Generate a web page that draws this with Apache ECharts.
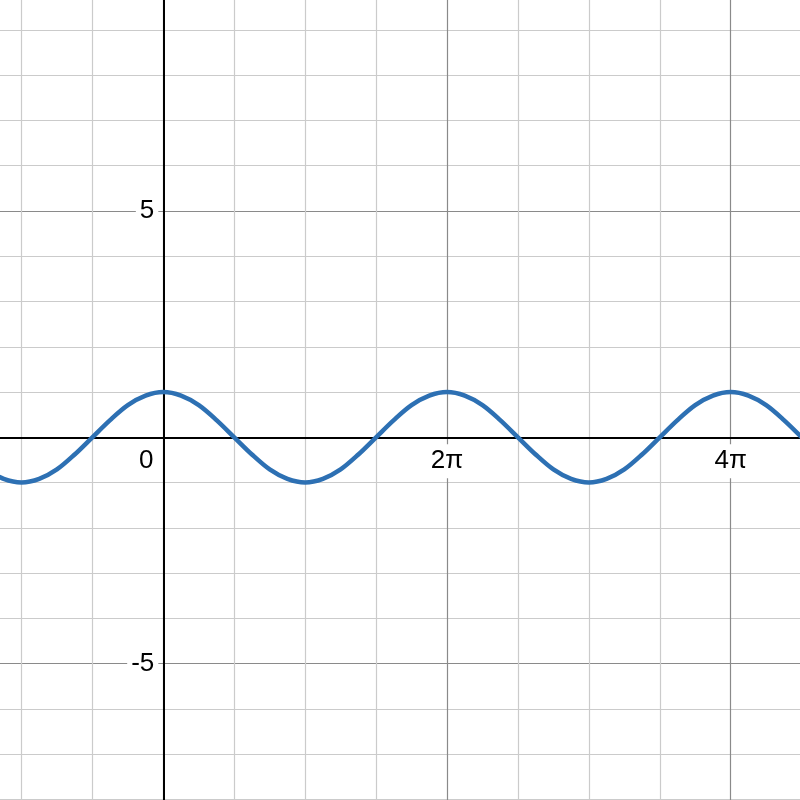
<!DOCTYPE html>
<html>
<head>
<meta charset="utf-8">
<script src="https://cdn.jsdelivr.net/npm/echarts@6.0.0/dist/echarts.min.js"></script>
<style>
html, body { margin: 0; padding: 0; background: #fff; }
#main { width: 800px; height: 800px; }
</style>
</head>
<body>
<div id="main"></div>
<script>
// x is in multiples of pi, read every pi/8 along the curve
var xValues = [-1.25, -1.125, -1, -0.875, -0.75, -0.625, -0.5, -0.375, -0.25, -0.125,
    0, 0.125, 0.25, 0.375, 0.5, 0.625, 0.75, 0.875, 1, 1.125, 1.25, 1.375, 1.5, 1.625, 1.75, 1.875,
    2, 2.125, 2.25, 2.375, 2.5, 2.625, 2.75, 2.875, 3, 3.125, 3.25, 3.375, 3.5, 3.625, 3.75, 3.875,
    4, 4.125, 4.25, 4.375, 4.5];
var yValues = [-0.71, -0.92, -1, -0.92, -0.71, -0.38, 0, 0.38, 0.71, 0.92,
    1, 0.92, 0.71, 0.38, 0, -0.38, -0.71, -0.92, -1, -0.92, -0.71, -0.38, 0, 0.38, 0.71, 0.92,
    1, 0.92, 0.71, 0.38, 0, -0.38, -0.71, -0.92, -1, -0.92, -0.71, -0.38, 0, 0.38, 0.71, 0.92,
    1, 0.92, 0.71, 0.38, 0];
var xTickLabels = { '-2': '-2π', '0': '0', '2': '2π', '4': '4π', '6': '6π' };
var yTickLabels = { '-10': '-10', '-5': '-5', '0': '', '5': '5', '10': '10' };

var myChart = echarts.init(document.getElementById('main'));

// grid box is larger than the canvas so min/max sit on whole ticks
var gridLeft = -120.4, gridTop = -15.3, gridWidth = 1134.8, gridHeight = 905.2;
var zeroX = 163.3, zeroY = 437.3;

var labelFont = {
    fontFamily: 'Liberation Sans, Arial, sans-serif',
    fontSize: 26,
    lineHeight: 26,
    color: '#000'
};

function gridAxis(min, max, step, minorSplit) {
    return {
        type: 'value',
        min: min,
        max: max,
        interval: step,
        z: 0,
        axisLine: { show: false },
        axisTick: { show: false },
        axisLabel: { show: false },
        splitLine: { show: true, lineStyle: { color: '#8a8a8a', width: 1.2 } },
        minorTick: { show: false, splitNumber: minorSplit },
        minorSplitLine: { show: true, lineStyle: { color: '#cbcbcb', width: 1.2 } }
    };
}

var points = xValues.map(function(x, i) {
    return [x, yValues[i]];
});

var option = {
    animation: false,
    backgroundColor: '#fff',
    grid: {
        left: gridLeft,
        top: gridTop,
        width: gridWidth,
        height: gridHeight,
        containLabel: false,
        outerBoundsMode: 'none'
    },
    xAxis: [{
        type: 'value',
        position: 'bottom',
        offset: -(gridTop + gridHeight - zeroY),
        min: -2,
        max: 6,
        interval: 2,
        z: 1,
        axisLine: { show: true, onZero: false, lineStyle: { color: '#000', width: 2 } },
        axisTick: { show: false },
        splitLine: { show: false },
        axisLabel: {
            margin: 11,
            formatter: function(v) {
                var txt = xTickLabels[String(v)] || '';
                return v === 0 ? '{z|' + txt + '}' : '{b|' + txt + '}';
            },
            rich: {
                b: Object.assign({ backgroundColor: '#fff', padding: [4, 4, 4, 4] }, labelFont),
                z: Object.assign({ padding: [4, 34, 4, 0] }, labelFont)
            }
        }
    }, gridAxis(-2, 6, 2, 4)],
    yAxis: [{
        type: 'value',
        position: 'left',
        offset: -(zeroX - gridLeft),
        min: -10,
        max: 10,
        interval: 5,
        z: 1,
        axisLine: { show: true, onZero: false, lineStyle: { color: '#000', width: 2 } },
        axisTick: { show: false },
        splitLine: { show: false },
        axisLabel: {
            margin: 5,
            formatter: function(v) {
                var txt = yTickLabels[String(v)] || '';
                return txt ? '{b|' + txt + '}' : '';
            },
            rich: {
                b: Object.assign({ backgroundColor: '#fff', padding: [2, 4, 2, 4] }, labelFont)
            }
        }
    }, gridAxis(-10, 10, 5, 5)],
    series: [{
        type: 'line',
        xAxisIndex: 0,
        yAxisIndex: 0,
        z: 2,
        data: points,
        smooth: 0.33,
        showSymbol: false,
        clip: true,
        lineStyle: { color: '#2d70b3', width: 4.5 }
    }]
};

myChart.setOption(option);
</script>
</body>
</html>
